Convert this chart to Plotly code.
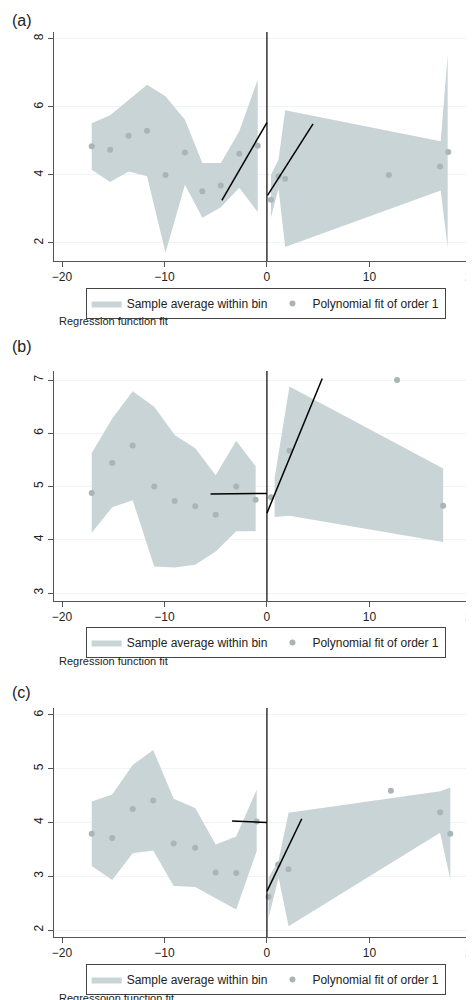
import plotly.graph_objects as go

# ---- Panel (a) ----
a_lx = [-17.1, -15.3, -13.5, -11.7, -9.9, -8.0, -6.3, -4.5, -2.7, -0.9]
a_lup = [5.52, 5.75, 6.2, 6.65, 6.31, 5.62, 4.35, 4.35, 5.28, 6.8]
a_llo = [4.15, 3.79, 4.1, 3.96, 1.71, 3.71, 2.74, 3.05, 3.62, 2.91]
a_ldot = [4.84, 4.74, 5.15, 5.3, 4.0, 4.66, 3.52, 3.69, 4.62, 4.86]
a_rx = [0.39, 1.13, 1.78, 16.96, 17.64]
a_rup = [4.0, 4.45, 5.9, 4.99, 7.53]
a_rlo = [2.74, 3.6, 1.88, 3.54, 1.86]
a_rdx = [0.39, 1.13, 1.78, 11.9, 16.9, 17.7]
a_rdot = [3.27, 3.96, 3.89, 4.0, 4.25, 4.67]
a_fitl_x = [-4.4, 0]; a_fitl_y = [3.25, 5.54]
a_fitr_x = [0.06, 4.5]; a_fitr_y = [3.4, 5.5]

# ---- Panel (b) ----
b_lx = [-17.1, -15.1, -13.1, -11.0, -9.0, -7.0, -5.0, -3.0, -1.1]
b_lup = [5.63, 6.28, 6.79, 6.5, 5.97, 5.72, 5.21, 5.86, 5.38]
b_llo = [4.13, 4.61, 4.74, 3.5, 3.48, 3.53, 3.78, 4.16, 4.16]
b_ldot = [4.88, 5.44, 5.77, 5.0, 4.73, 4.63, 4.47, 5.0, 4.75]
b_rx = [0.75, 2.2, 17.2]
b_rup = [5.16, 6.88, 5.34]
b_rlo = [4.43, 4.45, 3.96]
b_rdx = [0.4, 2.2, 12.7, 17.2]
b_rdot = [4.8, 5.67, 7.0, 4.64]
b_fitl_x = [-5.5, 0]; b_fitl_y = [4.86, 4.87]
b_fitr_x = [0, 5.4]; b_fitr_y = [4.5, 7.03]

# ---- Panel (c) ----
c_lx = [-17.1, -15.1, -13.1, -11.1, -9.1, -7.0, -5.0, -3.0, -1.0]
c_lup = [4.39, 4.52, 5.07, 5.35, 4.44, 4.27, 3.59, 3.74, 4.61]
c_llo = [3.19, 2.93, 3.43, 3.48, 2.82, 2.80, 2.59, 2.38, 3.47]
c_ldot = [3.79, 3.71, 4.25, 4.41, 3.61, 3.53, 3.07, 3.06, 4.02]
c_rx = [0.16, 1.14, 2.11, 16.9, 17.9]
c_rup = [2.97, 3.3, 4.18, 4.58, 4.65]
c_rlo = [2.23, 2.97, 2.07, 3.81, 2.94]
c_rdx = [0.16, 1.1, 2.1, 12.1, 16.9, 17.9]
c_rdot = [2.62, 3.22, 3.13, 4.59, 4.19, 3.79]
c_fitl_x = [-3.4, 0]; c_fitl_y = [4.03, 4.0]
c_fitr_x = [0, 3.4]; c_fitr_y = [2.72, 4.07]

x_ticks = [-20, -10, 0, 10, 20]
panels = [
    dict(lab="(a)", cap="Regression function fit", lx=a_lx, lup=a_lup, llo=a_llo, ldot=a_ldot,
         rx=a_rx, rup=a_rup, rlo=a_rlo, rdx=a_rdx, rdot=a_rdot,
         fits=[(a_fitl_x, a_fitl_y), (a_fitr_x, a_fitr_y)],
         yr=[1.47, 8.2], yt=[2, 4, 6, 8], top=24, bot=253, leg=280, captop=313, labtop=12),
    dict(lab="(b)", cap="Regression function fit", lx=b_lx, lup=b_lup, llo=b_llo, ldot=b_ldot,
         rx=b_rx, rup=b_rup, rlo=b_rlo, rdx=b_rdx, rdot=b_rdot,
         fits=[(b_fitl_x, b_fitl_y), (b_fitr_x, b_fitr_y)],
         yr=[2.85, 7.17], yt=[3, 4, 5, 6, 7], top=363, bot=593, leg=619, captop=653, labtop=338),
    dict(lab="(c)", cap="Regressoion function fit", lx=c_lx, lup=c_lup, llo=c_llo, ldot=c_ldot,
         rx=c_rx, rup=c_rup, rlo=c_rlo, rdx=c_rdx, rdot=c_rdot,
         fits=[(c_fitl_x, c_fitl_y), (c_fitr_x, c_fitr_y)],
         yr=[1.87, 6.13], yt=[2, 3, 4, 5, 6], top=700, bot=929, leg=956, captop=990, labtop=684),
]

BAND = "#c9d4d6"
DOT = "#a9b5b7"
W, H = 474, 1000
fig = go.Figure()
layout = dict(width=W, height=H, margin=dict(l=0, r=0, t=0, b=0),
              paper_bgcolor="white", plot_bgcolor="white",
              font=dict(family="Liberation Sans, Arial", size=12, color="#222"),
              shapes=[], annotations=[])

for i, p in enumerate(panels):
    n = "" if i == 0 else str(i + 1)
    xa, ya = "x" + n, "y" + n
    lg = "legend" + n
    for k, (bx, bu, bl) in enumerate([(p["lx"], p["lup"], p["llo"]), (p["rx"], p["rup"], p["rlo"])]):
        fig.add_trace(go.Scatter(x=bx + bx[::-1], y=bu + bl[::-1], fill="toself", fillcolor=BAND,
                                 line=dict(width=0, color=BAND), mode="lines", hoverinfo="skip",
                                 name="Sample average within bin", showlegend=(k == 0),
                                 xaxis=xa, yaxis=ya, legend=lg))
    fig.add_trace(go.Scatter(x=p["lx"] + p["rdx"], y=p["ldot"] + p["rdot"], mode="markers",
                             marker=dict(size=6, color=DOT), name="Polynomial fit of order 1",
                             xaxis=xa, yaxis=ya, legend=lg))
    for fx, fy in p["fits"]:
        fig.add_trace(go.Scatter(x=fx, y=fy, mode="lines", line=dict(color="black", width=1.5),
                                 showlegend=False, xaxis=xa, yaxis=ya))
    dom = [1 - p["bot"] / H, 1 - p["top"] / H]
    layout["xaxis" + n] = dict(domain=[44 / W, 471 / W], range=[-20.8, 20.7], tickvals=x_ticks,
                               ticktext=["\u221220", "\u221210", "0", "10", "20"],
                               showgrid=False, zeroline=False, showline=True, linecolor="#555",
                               ticks="outside", ticklen=5, tickcolor="#555", anchor=ya,
                               tickfont=dict(size=12, color="#222"))
    layout["yaxis" + n] = dict(domain=dom, range=p["yr"], tickvals=p["yt"], tickangle=-90,
                               showgrid=True, gridcolor="#f1f4f4", zeroline=False, showline=True,
                               linecolor="#555", ticks="outside", ticklen=5, tickcolor="#555",
                               anchor=xa, tickfont=dict(size=12, color="#222"))
    layout[lg] = dict(orientation="h", x=76 / W, y=1 - p["leg"] / H, xanchor="left", yanchor="top",
                      bordercolor="#444", borderwidth=1, bgcolor="white",
                      font=dict(size=12, color="#222"), itemwidth=30, tracegroupgap=0)
    layout["shapes"].append(dict(type="line", xref=xa, yref=ya + " domain", x0=0, x1=0, y0=0, y1=1,
                                 line=dict(color="black", width=1.2)))
    layout["annotations"].append(dict(text=p["lab"], xref="paper", yref="paper", x=0,
                                      y=1 - p["labtop"] / H, xanchor="left", yanchor="middle",
                                      showarrow=False, font=dict(size=16, color="#222")))
    layout["annotations"].append(dict(text=p["cap"], xref="paper", yref="paper", x=47 / W,
                                      y=1 - p["captop"] / H, xanchor="left", yanchor="middle",
                                      showarrow=False, font=dict(size=11, color="#222")))

fig.update_layout(**layout)
fig.write_html("out.html")
